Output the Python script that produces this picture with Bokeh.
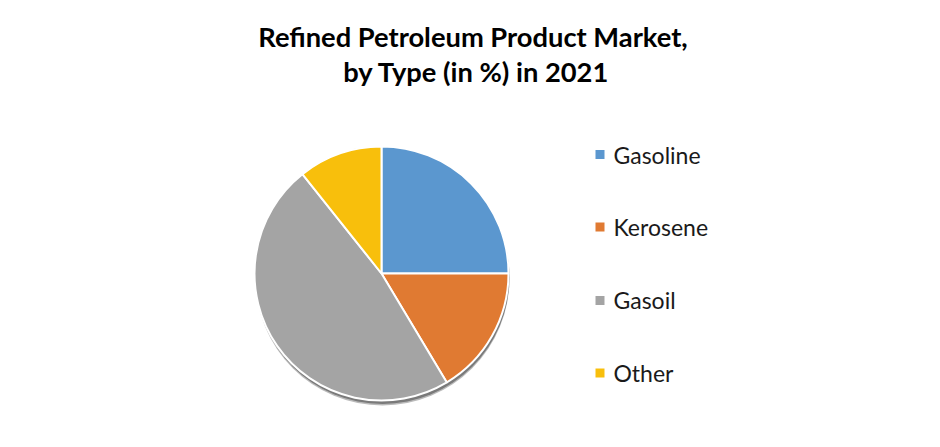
import numpy as np
from bokeh.plotting import figure
from bokeh.models import Range1d, ColumnDataSource
from bokeh.core.properties import value
from bokeh.embed import file_html
from bokeh.resources import INLINE

# ---- data ----
categories = ["Gasoline", "Kerosene", "Gasoil", "Other"]
shares = [25.0, 16.4, 47.9, 10.7]
colors = ["#5B97CF", "#E07A32", "#A4A4A4", "#F8BF0C"]
title_lines = ["Refined Petroleum Product Market,", "by Type (in %) in 2021"]

# ---- layout constants (page pixel coords) ----
W, H = 924, 431
def py(y):  # page y -> data y
    return 447 - y

CX, CY = 381, py(273)
R = 127
FONT = "Lato"
TXT_ADJ = 8  # text glyph baseline correction

p = figure(width=W, height=H, x_range=Range1d(0, 924), y_range=Range1d(16, 447),
           output_backend="svg", toolbar_location=None, min_border=0)
p.axis.visible = False
p.grid.visible = False
p.outline_line_color = None
p.background_fill_color = "white"
p.border_fill_color = "white"

# angles, clockwise from 12 o'clock
vals = np.array(shares, dtype=float)
frac = vals / vals.sum()
cum = np.cumsum(frac)
start = np.pi / 2 - (cum - frac) * 2 * np.pi
end = np.pi / 2 - cum * 2 * np.pi

src = ColumnDataSource(dict(cat=categories, start=start, end=end, color=colors,
                            x=[CX] * 4, y=[CY] * 4))

# shadow
p.circle(x=CX + 1, y=CY - 5, radius=R, radius_units="screen",
         fill_color="#3a3a3a", fill_alpha=0.35, line_color=None)
p.circle(x=CX + 1, y=CY - 3.5, radius=R, radius_units="screen",
         fill_color="#3a3a3a", fill_alpha=0.5, line_color=None)

p.wedge(x="x", y="y", radius=R, radius_units="screen", start_angle="start",
        end_angle="end", direction="clock", fill_color="color",
        line_color="white", line_width=2, source=src)

# title
p.text(x=[472.5, 476], y=[py(44 - TXT_ADJ), py(79 - TXT_ADJ)], text=title_lines,
       text_font=value(FONT), text_font_style="bold", text_font_size="27.3px",
       text_align="center", text_baseline="alphabetic", text_color="black")

# legend
leg_y = [py(154), py(226.5), py(300), py(372.5)]
leg_base = [py(v - TXT_ADJ) for v in (162.3, 234.5, 307.8, 380.2)]
p.rect(x=[599.5] * 4, y=leg_y, width=9, height=9, width_units="screen",
       height_units="screen", fill_color=colors, line_color=None)
p.text(x=[613] * 4, y=leg_base, text=categories, text_font=value(FONT),
       text_font_size="23px", text_align="left", text_baseline="alphabetic",
       text_color="#1a1a1a")

open("out.html", "w").write(file_html(p, INLINE))
